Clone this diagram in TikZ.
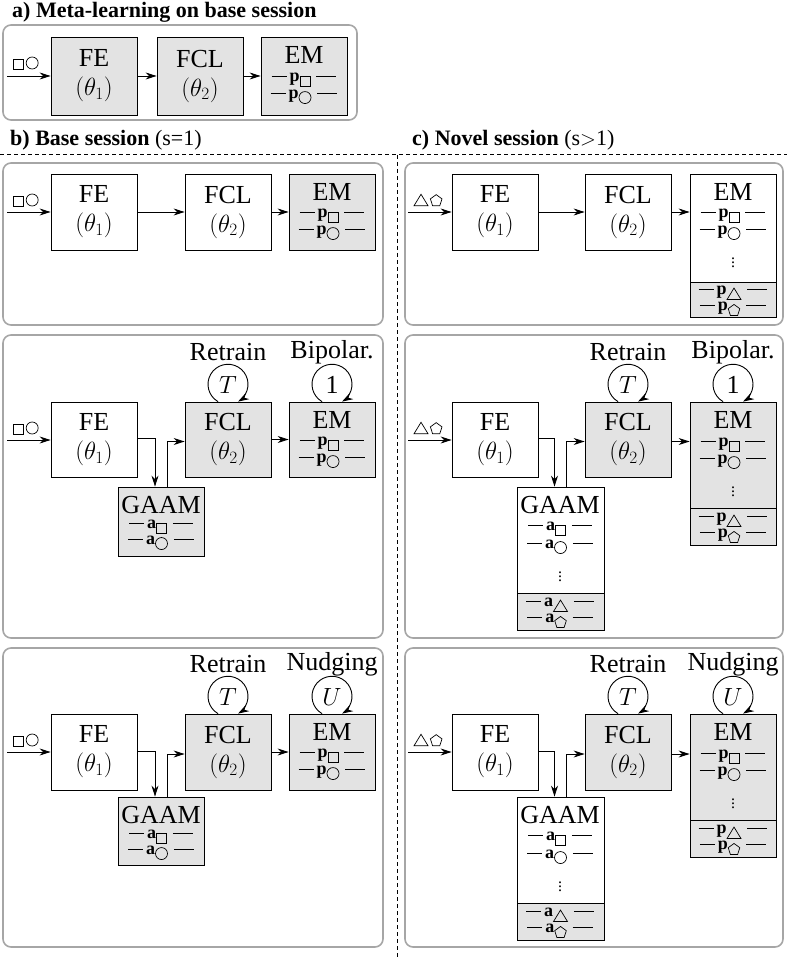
\documentclass[tikz,border=0pt]{standalone}
\usepackage{fontspec}
\setmainfont{Liberation Serif}
\usetikzlibrary{arrows.meta,shapes.geometric}
\newcommand{\sqs}{\tikz[baseline=0pt,x=1pt,y=1pt]\draw[line width=.7pt] (0,0) rectangle (10,10);}
\newcommand{\cis}{\tikz[baseline=0pt,x=1pt,y=1pt]\draw[line width=.7pt] (6,6) circle (6);}
\newcommand{\tris}{\tikz[baseline=0pt,x=1pt,y=1pt]\draw[line width=.7pt] (0,0)--(14,0)--(7,11.5)--cycle;}
\newcommand{\pens}{\tikz[baseline=0pt,x=1pt,y=1pt]\draw[line width=.7pt] (2.4,0)--(9.6,0)--(11.8,6.9)--(6,11.1)--(0.2,6.9)--cycle;}
\newcommand{\myent}[2]{\rule[5pt]{15pt}{0.7pt}\,$\mathbf{#1}$\raisebox{-5pt}{#2}\hspace{6pt}\rule[5pt]{20pt}{0.7pt}}
\tikzset{
  panel/.style={draw=black!35, line width=1.6pt, rounded corners=8pt},
  box/.style={draw, line width=0.8pt, inner sep=0pt},
  gbox/.style={box, fill=black!11},
  lbl/.style={font=\fontsize{26}{29}\selectfont, inner sep=0pt, align=center},
  ent/.style={font=\fontsize{18}{20}\selectfont, inner sep=0pt},
  vd/.style={font=\fontsize{16}{16}\selectfont, inner sep=0pt},
  ttl/.style={font=\fontsize{22}{26}\selectfont, inner sep=0pt, anchor=west},
  arr/.style={-{Stealth[length=11pt,width=7pt]}, line width=0.9pt},
  inp/.style={inner sep=0pt},
  sep/.style={dash pattern=on 4pt off 3pt, line width=1pt}
}
\newcommand{\rect}[6]{\node[#1, minimum width={#4-#2}, minimum height={#5-#3}] (#6) at ({(#2+#4)/2},{(#3+#5)/2}) {};}
\begin{document}
\begin{tikzpicture}[x=1pt,y=-1pt]
\useasboundingbox (0,0) rectangle (787,957);
% titles
\node[ttl] (ta) at (12,12) {\bfseries a) Meta-learning on base session};
\node[ttl] (tb) at (10,140) {\textbf{b) Base session} (s=1)};
\node[ttl] (tc) at (412,140) {\textbf{c) Novel session} (s$>$1)};
\coordinate (h1) at (0,155); \coordinate (h2) at (787,155);
\draw[sep] (h1) -- (h2);
\coordinate (v1) at (397,155); \coordinate (v2) at (397,957);
\draw[sep] (v1) -- (v2);
% panels
\draw[panel] (3,25) rectangle (357,120);
\draw[panel] (3,163) rectangle (383,325);
\draw[panel] (405,163) rectangle (783,325);
\draw[panel] (3,335) rectangle (383,638);
\draw[panel] (405,335) rectangle (783,638);
\draw[panel] (3,648) rectangle (383,947);
\draw[panel] (405,648) rectangle (783,947);

% ===== panel a
\rect{gbox}{51}{37}{137}{115}{fea}
\rect{gbox}{157}{37}{243}{115}{fcla}
\rect{gbox}{261}{37}{347}{115}{ema}
\node[lbl] at (fea) {FE\\$(\theta_1)$};
\node[lbl] at (fcla) {FCL\\$(\theta_2)$};
\node[lbl] at (304,55) {EM};
\node[ent] at (304,80) {\myent{p}{\sqs}};
\node[ent] at (304,97) {\myent{p}{\cis}};
\node[inp] at (26,63) {\sqs\,\cis};
\coordinate (ia) at (7,76);
\draw[arr] (ia) -- (fea);
\draw[arr] (fea) -- (fcla);
\draw[arr] (fcla) -- (ema);

% ===== panel b1
\rect{box}{51}{174}{137}{250}{feb1}
\rect{box}{185}{174}{271}{250}{fclb1}
\rect{gbox}{289}{174}{375}{250}{emb1}
\node[lbl] at (feb1) {FE\\$(\theta_1)$};
\node[lbl] at (fclb1) {FCL\\$(\theta_2)$};
\node[lbl] at (332,192) {EM};
\node[ent] at (332,216) {\myent{p}{\sqs}};
\node[ent] at (332,233) {\myent{p}{\cis}};
\node[inp] at (26,200) {\sqs\,\cis};
\coordinate (ib1) at (7,212);
\draw[arr] (ib1) -- (feb1);
\draw[arr] (feb1) -- (fclb1);
\draw[arr] (fclb1) -- (emb1);

% ===== panel c1
\rect{box}{452}{174}{538}{250}{fec1}
\rect{box}{585}{174}{671}{250}{fclc1}
\rect{box}{690}{174}{776}{282}{emc1}
\rect{gbox}{690}{282}{776}{317}{emc1b}
\node[lbl] at (fec1) {FE\\$(\theta_1)$};
\node[lbl] at (fclc1) {FCL\\$(\theta_2)$};
\node[lbl] at (733,192) {EM};
\node[ent] at (733,216) {\myent{p}{\sqs}};
\node[ent] at (733,233) {\myent{p}{\cis}};
\node[vd] at (733,260) {$\vdots$};
\node[ent] at (733,293) {\myent{p}{\tris}};
\node[ent] at (733,309) {\myent{p}{\pens}};
\node[inp] at (428,200) {\tris\,\pens};
\coordinate (ic1) at (408,212);
\draw[arr] (ic1) -- (fec1);
\draw[arr] (fec1) -- (fclc1);
\draw[arr] (fclc1.east |- emb1) -- (emc1.west |- emb1);

% ===== panel b2
\rect{box}{51}{402}{137}{477}{feb2}
\rect{gbox}{185}{402}{271}{477}{fclb2}
\rect{gbox}{289}{402}{375}{477}{emb2}
\rect{gbox}{118}{487}{204}{556}{gab2}
\node[lbl] at (feb2) {FE\\$(\theta_1)$};
\node[lbl] at (fclb2) {FCL\\$(\theta_2)$};
\node[lbl] at (332,420) {EM};
\node[ent] at (332,444) {\myent{p}{\sqs}};
\node[ent] at (332,461) {\myent{p}{\cis}};
\node[lbl] at (161,505) {GAAM};
\node[ent] at (161,527) {\myent{a}{\sqs}};
\node[ent] at (161,543) {\myent{a}{\cis}};
\node[inp] at (26,428) {\sqs\,\cis};
\coordinate (ib2) at (7,440);
\draw[arr] (ib2) -- (feb2.west |- ib2);
\draw[arr] ([yshift=1pt]feb2.east) -| ([xshift=-6pt]gab2.north);
\draw[arr] ([xshift=6pt]gab2.north) |- ([yshift=-2pt]fclb2.west);
\draw[arr] (fclb2) -- (emb2);
\draw[arr] ([xshift=-10pt]fclb2.north) arc[start angle=120,end angle=420,radius=20];
\node[lbl] (tb2) at (228,385) {$T$};
\draw[arr] ([xshift=-10pt]emb2.north) arc[start angle=120,end angle=420,radius=20];
\node[lbl] (ob2) at (332,385) {1};
\node[lbl] (rb2) at (228,352) {Retrain};
\node[lbl] (bb2) at (332,352) {Bipolar.};

% ===== panel c2
\rect{box}{452}{402}{538}{477}{fec2}
\rect{gbox}{585}{402}{671}{477}{fclc2}
\rect{gbox}{690}{402}{776}{508}{emc2}
\rect{gbox}{690}{508}{776}{545}{emc2b}
\rect{box}{517}{487}{604}{593}{gac2}
\rect{gbox}{517}{593}{604}{630}{gac2b}
\node[lbl] at (fec2) {FE\\$(\theta_1)$};
\node[lbl] at (fclc2) {FCL\\$(\theta_2)$};
\node[lbl] at (733,420) {EM};
\node[ent] at (733,445) {\myent{p}{\sqs}};
\node[ent] at (733,462) {\myent{p}{\cis}};
\node[vd] at (733,489) {$\vdots$};
\node[ent] at (733,520) {\myent{p}{\tris}};
\node[ent] at (733,536) {\myent{p}{\pens}};
\node[lbl] at (560,505) {GAAM};
\node[ent] at (560,529) {\myent{a}{\sqs}};
\node[ent] at (560,547) {\myent{a}{\cis}};
\node[vd] at (560,574) {$\vdots$};
\node[ent] at (560,605) {\myent{a}{\tris}};
\node[ent] at (560,621) {\myent{a}{\pens}};
\node[inp] at (428,428) {\tris\,\pens};
\coordinate (ic2) at (408,440);
\draw[arr] (ic2) -- (fec2.west |- ic2);
\draw[arr] ([yshift=1pt]fec2.east) -| ([xshift=-6pt]gac2.north);
\draw[arr] ([xshift=6pt]gac2.north) |- ([yshift=-2pt]fclc2.west);
\draw[arr] ([yshift=-2pt]fclc2.east) -- ([yshift=-2pt]fclc2.east -| emc2.west);
\draw[arr] ([xshift=-10pt]fclc2.north) arc[start angle=120,end angle=420,radius=20];
\node[lbl] (tc2) at (628,385) {$T$};
\draw[arr] ([xshift=-10pt]emc2.north) arc[start angle=120,end angle=420,radius=20];
\node[lbl] (oc2) at (733,385) {1};
\node[lbl] (rc2) at (628,352) {Retrain};
\node[lbl] (bc2) at (733,352) {Bipolar.};

% ===== panel b3
\rect{box}{51}{714}{137}{790}{feb3}
\rect{gbox}{185}{714}{271}{790}{fclb3}
\rect{gbox}{289}{714}{375}{790}{emb3}
\rect{gbox}{118}{797}{204}{865}{gab3}
\node[lbl] at (feb3) {FE\\$(\theta_1)$};
\node[lbl] at (fclb3) {FCL\\$(\theta_2)$};
\node[lbl] at (332,732) {EM};
\node[ent] at (332,756) {\myent{p}{\sqs}};
\node[ent] at (332,773) {\myent{p}{\cis}};
\node[lbl] at (161,815) {GAAM};
\node[ent] at (161,837) {\myent{a}{\sqs}};
\node[ent] at (161,853) {\myent{a}{\cis}};
\node[inp] at (26,740) {\sqs\,\cis};
\coordinate (ib3) at (7,752);
\draw[arr] (ib3) -- (feb3.west |- ib3);
\draw[arr] ([yshift=1pt]feb3.east) -| ([xshift=-6pt]gab3.north);
\draw[arr] ([xshift=6pt]gab3.north) |- ([yshift=-2pt]fclb3.west);
\draw[arr] (fclb3) -- (emb3);
\draw[arr] ([xshift=-10pt]fclb3.north) arc[start angle=120,end angle=420,radius=20];
\node[lbl] (tb3) at (228,697) {$T$};
\draw[arr] ([xshift=-10pt]emb3.north) arc[start angle=120,end angle=420,radius=20];
\node[lbl] (ub3) at (332,697) {$U$};
\node[lbl] (rb3) at (228,664) {Retrain};
\node[lbl] (nb3) at (332,664) {Nudging};

% ===== panel c3
\rect{box}{452}{714}{538}{790}{fec3}
\rect{gbox}{585}{714}{671}{790}{fclc3}
\rect{gbox}{690}{714}{776}{820}{emc3}
\rect{gbox}{690}{820}{776}{857}{emc3b}
\rect{box}{517}{797}{604}{903}{gac3}
\rect{gbox}{517}{903}{604}{940}{gac3b}
\node[lbl] at (fec3) {FE\\$(\theta_1)$};
\node[lbl] at (fclc3) {FCL\\$(\theta_2)$};
\node[lbl] at (733,732) {EM};
\node[ent] at (733,757) {\myent{p}{\sqs}};
\node[ent] at (733,774) {\myent{p}{\cis}};
\node[vd] at (733,801) {$\vdots$};
\node[ent] at (733,832) {\myent{p}{\tris}};
\node[ent] at (733,848) {\myent{p}{\pens}};
\node[lbl] at (560,815) {GAAM};
\node[ent] at (560,839) {\myent{a}{\sqs}};
\node[ent] at (560,857) {\myent{a}{\cis}};
\node[vd] at (560,884) {$\vdots$};
\node[ent] at (560,915) {\myent{a}{\tris}};
\node[ent] at (560,931) {\myent{a}{\pens}};
\node[inp] at (428,740) {\tris\,\pens};
\coordinate (ic3) at (408,752);
\draw[arr] (ic3) -- (fec3.west |- ic3);
\draw[arr] ([yshift=1pt]fec3.east) -| ([xshift=-6pt]gac3.north);
\draw[arr] ([xshift=6pt]gac3.north) |- ([yshift=-2pt]fclc3.west);
\draw[arr] ([yshift=-2pt]fclc3.east) -- ([yshift=-2pt]fclc3.east -| emc3.west);
\draw[arr] ([xshift=-10pt]fclc3.north) arc[start angle=120,end angle=420,radius=20];
\node[lbl] (tc3) at (628,697) {$T$};
\draw[arr] ([xshift=-10pt]emc3.north) arc[start angle=120,end angle=420,radius=20];
\node[lbl] (uc3) at (733,697) {$U$};
\node[lbl] (rc3) at (628,664) {Retrain};
\node[lbl] (nc3) at (733,664) {Nudging};
\end{tikzpicture}
\end{document}
